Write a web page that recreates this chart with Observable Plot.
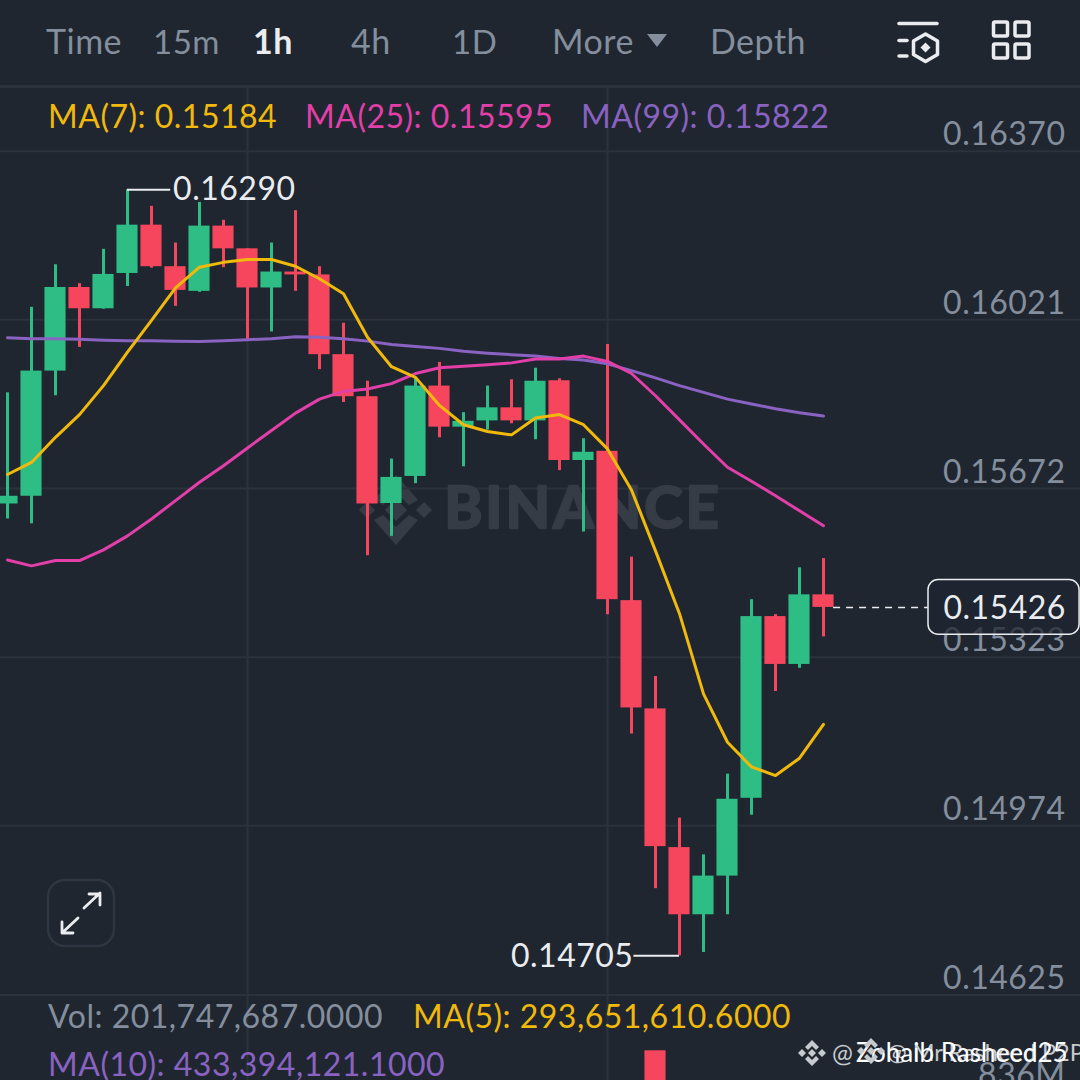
<!DOCTYPE html>
<html>
<head>
<meta charset="utf-8">
<script src="https://cdn.jsdelivr.net/npm/d3@7"></script>
<script src="https://cdn.jsdelivr.net/npm/@observablehq/plot@0.6"></script>
<style>
html,body{margin:0;padding:0;background:#1f2630;width:1080px;height:1080px;overflow:hidden}
#page{position:relative;width:1080px;height:1080px;font-family:Lato,sans-serif;font-size:32px;letter-spacing:.5px;color:#848e9c}
#page span.t{position:absolute;white-space:nowrap;line-height:36px}
#main{position:absolute;left:0;top:86px}
#vol{position:absolute;left:0;top:994px}
svg{display:block}
.layer{position:absolute;left:0;top:0;pointer-events:none}
</style>
</head>
<body>
<div id="page">
<svg class="layer" width="1080" height="1080">
  <g fill="#363c45">
    <path d="M396 475L418 500 409 505 396 493 383 505 374 500z"/>
    <path d="M396 545L418 520 409 515 396 527 383 515 374 520z"/>
    <path d="M396 499l11 11-11 11-11-11z"/>
    <path d="M424 502l8 8-8 8-8-8z"/>
    <path d="M367 502l8 8-8 8-8-8z"/>
  </g>
</svg>
<div id="main"></div>
<div id="vol"></div>
<div id="overlay"></div>
<svg class="layer" width="1080" height="1080" id="icons">
  <g fill="none" stroke="#eaecef" stroke-width="3.5" stroke-linecap="round" stroke-linejoin="round">
    <path d="M899 23.500h38"/><path d="M899 40.500h8"/><path d="M899 56h8"/>
    <path d="M925.500 34l12 7v13.500l-12 7-12-7V41z"/>
    <rect x="993.500" y="22" width="14" height="14" rx="1.500"/><rect x="1015" y="22" width="14" height="14" rx="1.500"/>
    <rect x="993.500" y="44" width="14" height="14" rx="1.500"/><rect x="1015" y="44" width="14" height="14" rx="1.500"/>
    <rect x="48" y="880" width="66" height="66" rx="17" stroke="#2f3641" stroke-width="2.500"/>
    <path d="M84 908l16-15M89 894h11v11M78 918l-16 15M62 922v11h11" stroke="#eaecef" stroke-width="2.800"/>
  </g>
  <path d="M925.500 42.500l5 5-5 5-5-5z" fill="#eaecef"/>
  <path d="M647 34h20l-10 13z" fill="#848e9c"/>
  <g fill="#c6c9cd">
    <path d="M812 1040l7 7-3 3-4-4-4 4-3-3zM812 1066l7-7-3-3-4 4-4-4-3 3zM812 1049l4 4-4 4-4-4zM802 1049l4 4-4 4-4-4zM822 1049l4 4-4 4-4-4z"/>
    <path d="M871 1038l7 7-3 3-4-4-4 4-3-3zM871 1064l7-7-3-3-4 4-4-4-3 3zM871 1047l4 4-4 4-4-4zM861 1047l4 4-4 4-4-4zM881 1047l4 4-4 4-4-4z"/>
  </g>
</svg>
</div>
<script>
// ---------- data ----------
const opens  = [0.15640,0.15656,0.15915,0.16088,0.16044,0.16117,0.16217,0.16131,0.16080,0.16215,0.16168,0.16087,0.16120,0.16114,0.15949,0.15862,0.15641,0.15697,0.15884,0.15799,0.15812,0.15839,0.15812,0.15895,0.15730,0.15749,0.15440,0.15216,0.14929,0.14790,0.14870,0.15031,0.15407,0.15308,0.15452];
const highs  = [0.15870,0.16047,0.16135,0.16096,0.16167,0.16290,0.16256,0.16180,0.16264,0.16227,0.16168,0.16180,0.16247,0.16131,0.16014,0.15894,0.15733,0.15902,0.15933,0.15829,0.15884,0.15897,0.15921,0.15899,0.15775,0.15970,0.15530,0.15283,0.14990,0.14914,0.15081,0.15442,0.15411,0.15508,0.15527];
const lows   = [0.15609,0.15599,0.15864,0.15964,0.16043,0.16090,0.16128,0.16049,0.16078,0.16129,0.15980,0.15996,0.16080,0.15918,0.15850,0.15533,0.15573,0.15682,0.15777,0.15717,0.15793,0.15806,0.15773,0.15709,0.15582,0.15411,0.15164,0.14844,0.14705,0.14712,0.14790,0.14996,0.15252,0.15300,0.15365];
const closes = [0.15656,0.15915,0.16088,0.16044,0.16115,0.16217,0.16131,0.16082,0.16215,0.16168,0.16087,0.16120,0.16114,0.15949,0.15862,0.15640,0.15695,0.15884,0.15799,0.15811,0.15839,0.15812,0.15894,0.15730,0.15747,0.15442,0.15218,0.14931,0.14790,0.14870,0.15029,0.15407,0.15308,0.15452,0.15426];
const ma7  = [0.15701,0.15726,0.15778,0.15825,0.15885,0.15954,0.16020,0.16087,0.16130,0.16140,0.16146,0.16146,0.16132,0.16106,0.16075,0.15985,0.15924,0.15902,0.15844,0.15804,0.15790,0.15783,0.15818,0.15825,0.15804,0.15754,0.15669,0.15543,0.15413,0.15247,0.15147,0.15096,0.15078,0.15114,0.15184];
const ma25 = [0.15524,0.15512,0.15523,0.15523,0.15545,0.15574,0.15609,0.15647,0.15685,0.15719,0.15756,0.15792,0.15828,0.15857,0.15873,0.15878,0.15889,0.15910,0.15922,0.15925,0.15928,0.15932,0.15940,0.15940,0.15946,0.15935,0.15910,0.15864,0.15814,0.15764,0.15716,0.15687,0.15657,0.15626,0.15595];
const ma99 = [0.15984,0.15982,0.15982,0.15981,0.15979,0.15978,0.15978,0.15977,0.15976,0.15978,0.15980,0.15982,0.15986,0.15985,0.15982,0.15977,0.15970,0.15966,0.15962,0.15956,0.15952,0.15949,0.15946,0.15941,0.15938,0.15930,0.15916,0.15901,0.15885,0.15871,0.15857,0.15847,0.15837,0.15829,0.15822];
const priceTicks = [0.16370,0.16021,0.15672,0.15323,0.14974,0.14625];
const timeGrid = [10,25];
const lastPrice = 0.15426, maxPrice = 0.16290, minPrice = 0.14705;
const volumeBars = [{i:27, v:979.5e6}];
const volumeTicks = [836e6];

// ---------- colours ----------
const bg="#1f2630", grid="#2b323c", green="#2ebd85", red="#f6465d", gray="#848e9c", white="#eaecef",
      yellow="#f0b90b", pink="#e23fa9", purple="#8a63c2";

// ---------- header text (HTML, not part of the SVG) ----------
const headerItems = [
 ["Time",46,23,gray,400,34],["15m",153,23,gray,400,33],["1h",253,23,white,700,34],["4h",351,23,gray,400,34],["1D",452,23,gray,400,33],["More",552,23,gray,400,34],["Depth",710,23,gray,400,34],
 ["MA(7): 0.15184",48,98,yellow],["MA(25): 0.15595",305,98,pink],["MA(99): 0.15822",581,98,purple],
 ["Vol: 201,747,687.0000",48,998,gray],["MA(5): 293,651,610.6000",413,998,yellow],["MA(10): 433,394,121.1000",48,1046,purple]
];
const overlay = document.getElementById("overlay");
for (const [s,l,t,c,w,f] of headerItems){
  const e=document.createElement("span"); e.className="t"; e.textContent=s;
  e.style.left=l+"px"; e.style.top=t+"px"; e.style.color=c; if(w) e.style.fontWeight=w; if(f) e.style.fontSize=f+"px";
  overlay.appendChild(e);
}
const credits=[["@",832,1034,"#c6c9cd",25],["@ Mr Rasheed P2P",887,1034,"#c6c9cd",23.5],["Zohaib Rasheed25",856,1034,"#ffffff",26]];
for (const [s,l,t,c,f] of credits){
  const e=document.createElement("span"); e.className="t"; e.textContent=s;
  e.style.left=l+"px"; e.style.top=t+"px"; e.style.color=c; e.style.fontSize=f+"px"; e.style.letterSpacing="0";
  overlay.appendChild(e);
}

// ---------- chart ----------
const candles = opens.map((o,i)=>({i,o,h:highs[i],l:lows[i],c:closes[i],up:closes[i]>=o}));
const line = (arr)=>arr.map((v,i)=>({i,v}));
const W=1080, H=908;
const xDomain=[-7/24,(1080-7)/24];
const font="Lato,sans-serif";
const fs=32;
const yScale={domain:[0.14625,0.165039],range:[H,0]};

const main = Plot.plot({
  width:W,height:H,margin:0,
  style:{background:"transparent",fontFamily:font,overflow:"visible"},
  x:{domain:xDomain,range:[0,W],axis:null},
  y:{...yScale,axis:null},
  marks:[
    Plot.ruleY(priceTicks.slice(0,5),{stroke:grid,strokeWidth:2}),
    Plot.ruleX(timeGrid,{stroke:grid,strokeWidth:2}),
    Plot.text(["BINANCE"],{x:()=>23.98,y:()=>0.15629,text:d=>d,fill:"#363c45",stroke:"#363c45",strokeWidth:2.5,fontSize:58,fontWeight:700,fontFamily:font,textAnchor:"middle",className:"wm"}),
    Plot.ruleX(candles,{x:"i",y1:"l",y2:"h",stroke:d=>d.up?green:red,strokeWidth:3}),
    Plot.rect(candles,{x1:d=>d.i-0.44,x2:d=>d.i+0.44,y1:d=>Math.min(d.o,d.c),y2:d=>Math.max(d.o,d.c),fill:d=>d.up?green:red}),
    Plot.line(line(ma99),{x:"i",y:"v",stroke:purple,strokeWidth:3,curve:"linear"}),
    Plot.line(line(ma25),{x:"i",y:"v",stroke:pink,strokeWidth:3,curve:"linear"}),
    Plot.line(line(ma7),{x:"i",y:"v",stroke:yellow,strokeWidth:3,curve:"linear"}),
    // extreme-price annotations
    Plot.ruleY([maxPrice],{x1:5,x2:6.8,stroke:white,strokeWidth:2}),
    Plot.text([maxPrice],{x:()=>6.9,y:d=>d,text:d=>d.toFixed(5),textAnchor:"start",fill:white,fontSize:fs,fontFamily:font}),
    Plot.ruleY([minPrice],{x1:26.1,x2:28,stroke:white,strokeWidth:2}),
    Plot.text([minPrice],{x:()=>26.08,y:d=>d,dy:1,text:d=>d.toFixed(5),textAnchor:"end",fill:white,fontSize:fs,fontFamily:font}),
    // price axis labels
    Plot.text(priceTicks,{frameAnchor:"right",y:d=>d,dx:-15,dy:-16,text:d=>d.toFixed(5),textAnchor:"end",fill:gray,fontSize:fs,fontFamily:font}),
    // last price
    Plot.ruleY([lastPrice],{x1:34.42,x2:38.37,stroke:white,strokeWidth:1.5,strokeDasharray:"7,6"}),
    Plot.rect([lastPrice],{x1:()=>38.375,x2:()=>44.67,y1:d=>d-0.000565,y2:d=>d+0.000565,fill:bg,fillOpacity:0.75,stroke:white,strokeWidth:1.5,rx:10}),
    Plot.text([lastPrice],{x:()=>41.55,y:d=>d,dy:1,text:d=>d.toFixed(5),textAnchor:"middle",fill:white,fontSize:fs,fontFamily:font})
  ]
});
document.getElementById("main").appendChild(main);
d3.select(main).selectAll(".wm text").attr("letter-spacing","3");

const vol = Plot.plot({
  width:W,height:86,margin:0,
  style:{background:"transparent",fontFamily:font,overflow:"hidden"},
  x:{domain:xDomain,range:[0,W],axis:null},
  y:{domain:[876e6,1175.5e6],range:[86,0],axis:null,clamp:false},
  marks:[
    Plot.ruleY([1175.5e6],{stroke:grid,strokeWidth:3}),
    Plot.ruleX(timeGrid,{stroke:grid,strokeWidth:2}),
    Plot.rect(volumeBars,{x1:d=>d.i-0.44,x2:d=>d.i+0.44,y1:()=>876e6,y2:"v",fill:red}),
    Plot.text(volumeTicks,{frameAnchor:"right",y:d=>d,dx:-15,dy:-16,text:d=>Math.round(d/1e6)+"M",textAnchor:"end",fill:gray,fontSize:fs,fontFamily:font})
  ]
});
document.getElementById("vol").appendChild(vol);

// header separator, drawn through the page's own style
const sep=document.createElement("div");
sep.style.cssText="position:absolute;left:0;top:85px;width:1080px;height:3px;background:"+grid;
overlay.appendChild(sep);
</script>
</body>
</html>
